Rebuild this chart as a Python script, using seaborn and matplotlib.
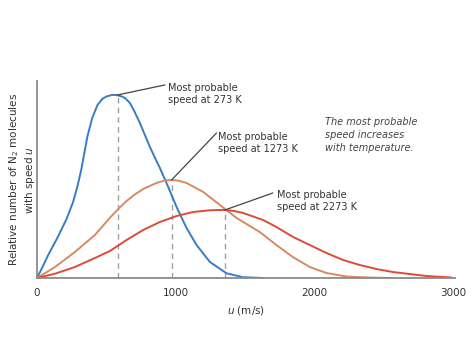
import matplotlib
matplotlib.use("Agg")
import matplotlib.pyplot as plt
import seaborn as sns
import pandas as pd

# Speeds (m/s) and relative heights
u_273 = [0, 40, 81, 150, 213, 260, 292, 320, 341, 364, 398, 436, 470, 501, 540, 573, 610, 633, 669, 700, 741, 780, 813, 850, 885, 945, 1005, 1077, 1149, 1245, 1365, 1482, 1626]
n_273 = [0, 11, 23, 41, 59, 76, 92, 109, 125, 142, 160, 173, 179, 181.5, 183, 183, 181.5, 180, 175, 167, 155, 142, 131, 120, 110, 91, 71, 50, 33, 16, 4.7, 0.8, 0]

u_1273 = [0, 130, 273, 417, 537, 600, 645, 700, 765, 861, 920, 969, 1020, 1077, 1197, 1317, 1437, 1604, 1724, 1842, 1964, 2084, 2228, 2396, 2554]
n_1273 = [0, 11, 26, 43, 62, 71, 77, 83, 89, 95, 97.5, 98, 97.3, 95, 86, 73, 60, 46, 33, 21, 11, 5, 1.5, 0.4, 0]

u_2273 = [0, 130, 273, 417, 525, 645, 765, 885, 1005, 1125, 1245, 1300, 1353, 1420, 1484, 1628, 1724, 1844, 1964, 2084, 2204, 2324, 2444, 2561, 2683, 2804, 2983]
n_2273 = [0, 4.3, 11, 20, 27, 38, 48, 56, 62, 66, 67.7, 68, 68, 67, 65, 58, 51, 41, 33, 25, 18, 13, 9, 6, 4, 2, 0.5]

peak_u = [580, 969, 1353]
peak_n = [183, 98, 68]
labels = ["Most probable\nspeed at 273 K", "Most probable\nspeed at 1273 K", "Most probable\nspeed at 2273 K"]
note = "The most probable\nspeed increases\nwith temperature."
x_ticks = [0, 1000, 2000, 3000]

colors = ["#3a7cc3", "#d78a5f", "#e04b35"]

sns.set_theme(style="white")
plt.rcParams['font.family'] = ['DejaVu Sans']

fig = plt.figure(figsize=(4.74, 3.38), dpi=100)
ax = fig.add_axes([0.078, 0.1775, 0.882, 0.583])

for u, n, c in zip([u_273, u_1273, u_2273], [n_273, n_1273, n_2273], colors):
    df = pd.DataFrame({"u": u, "n": n})
    sns.lineplot(data=df, x="u", y="n", ax=ax, color=c, lw=1.4, sort=False)

for pu, pn in zip(peak_u, peak_n):
    ax.plot([pu, pu], [0, pn], color="#a0a0a0", lw=1.0, ls=(0, (4, 3)), zorder=1)

# annotations
text_pos = [(942, 184), (1302, 135), (1727, 77)]
line_end = [(921, 193), (1293, 145), (1698, 85)]
for (pu, pn), lab, (tx, ty), (lx, ly) in zip(zip(peak_u, peak_n), labels, text_pos, line_end):
    ax.plot([pu, lx], [pn, ly], color="#444444", lw=0.9)
    ax.text(tx, ty, lab, fontsize=7, color="#333333", va="center", ha="left", linespacing=1.35)

ax.text(2072, 143, note, fontsize=7, color="#444444", style="italic", va="center", ha="left", linespacing=1.35)

ax.set_xlim(0, 3010)
ax.set_ylim(0, 197)
ax.set_xticks(x_ticks)
ax.set_xticklabels([str(t) for t in x_ticks], fontsize=7.5, color="#333333")
ax.set_yticks([])
ax.set_xlabel("$u$ (m/s)", fontsize=7.5, color="#333333", labelpad=4)
ax.set_ylabel("Relative number of N$_2$ molecules\nwith speed $u$", fontsize=7.5, color="#333333", labelpad=0)
for s in ["top", "right"]:
    ax.spines[s].set_visible(False)
for s in ["left", "bottom"]:
    ax.spines[s].set_color("#8a8a8a")
    ax.spines[s].set_linewidth(1.3)
ax.tick_params(axis="x", direction="in", length=4, color="#8a8a8a", pad=7.5)

fig.savefig("out.png", dpi=100)
